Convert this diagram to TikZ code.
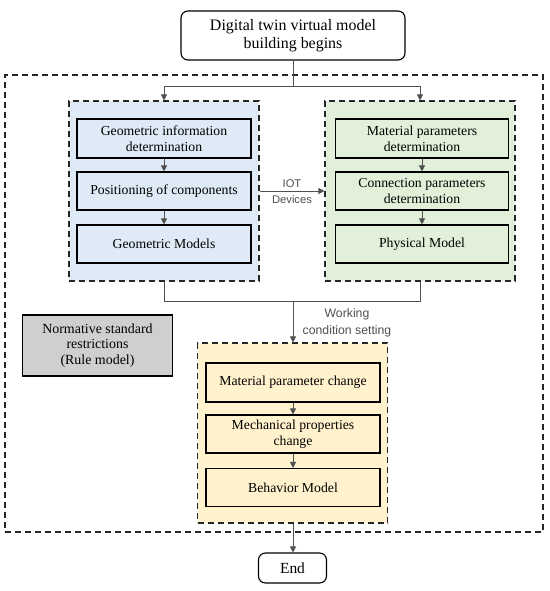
\documentclass[tikz,border=0pt]{standalone}
\usepackage{fontspec}
\setmainfont{Liberation Serif}
\newfontfamily\lblfont{Liberation Sans}
\usetikzlibrary{arrows.meta}
\definecolor{bluefill}{HTML}{DEEBF7}
\definecolor{greenfill}{HTML}{E2F0D9}
\definecolor{yellowfill}{HTML}{FFF2CC}
\definecolor{grayfill}{HTML}{D0CECE}
\definecolor{linegray}{HTML}{505050}
\begin{document}
\begin{tikzpicture}[x=1bp,y=-1bp,
  box/.style={draw=black,line width=1.1bp,inner sep=0pt,align=center,
    font=\fontsize{13.8}{15.7}\selectfont},
  roundbox/.style={box,rounded corners=7bp,fill=white},
  group/.style={draw=black!85,line width=1.1bp,dash pattern=on 6bp off 4bp,inner sep=0pt},
  conn/.style={draw=linegray,line width=0.8bp},
  arr/.style={conn,-{Triangle[length=6bp,width=6bp]}},
  lbl/.style={font=\lblfont\fontsize{11.2}{16}\selectfont,text=linegray,align=center}
]
\useasboundingbox (0,0) rectangle (550,591);

% outer dashed frame
\node[group,fill=white,minimum width=538bp,minimum height=457bp] (outer) at (274,303.5) {};

% top and end
\node[roundbox,minimum width=224bp,minimum height=49bp,font=\fontsize{16}{18.5}\selectfont] (top) at (293,35.5) {Digital twin virtual model\\building begins};
\node[roundbox,minimum width=68bp,minimum height=30bp,font=\fontsize{15.5}{18}\selectfont] (end) at (292.5,568) {End};

% groups
\node[group,fill=bluefill,minimum width=190bp,minimum height=180bp] (blue) at (164,191) {};
\node[group,fill=greenfill,minimum width=190bp,minimum height=180bp] (green) at (420,191) {};
\node[group,fill=yellowfill,minimum width=190bp,minimum height=180bp] (yellow) at (292.5,433) {};

% blue inner
\node[box,fill=bluefill,minimum width=174bp,minimum height=39bp] (b1) at (164,138.5) {Geometric information\\determination};
\node[box,fill=bluefill,minimum width=174bp,minimum height=38bp] (b2) at (164,191) {Positioning of components};
\node[box,fill=bluefill,minimum width=174bp,minimum height=38bp] (b3) at (164,244) {Geometric Models};

% green inner
\node[box,fill=greenfill,minimum width=173bp,minimum height=39bp] (g1) at (422,138.5) {Material parameters\\determination};
\node[box,fill=greenfill,minimum width=173bp,minimum height=38bp] (g2) at (422,191) {Connection parameters\\determination};
\node[box,fill=greenfill,minimum width=173bp,minimum height=38bp] (g3) at (422,244) {Physical Model};

% yellow inner
\node[box,fill=yellowfill,minimum width=174bp,minimum height=39bp] (y1) at (293,382.5) {Material parameter change};
\node[box,fill=yellowfill,minimum width=174bp,minimum height=38bp] (y2) at (293,434) {Mechanical properties\\change};
\node[box,fill=yellowfill,minimum width=174bp,minimum height=38bp] (y3) at (293,487.5) {Behavior Model};

% gray rule box
\node[box,fill=grayfill,minimum width=150bp,minimum height=61bp,font=\fontsize{14}{15.5}\selectfont] (rule) at (97.5,345.5) {Normative standard\\restrictions\\(Rule model)};

% connectors
\coordinate (j1) at (293,86);
\draw[conn] (top.south) -- (j1);
\draw[arr] (j1) -| (blue.north);
\draw[arr] (j1) -| (green.north);

\draw[arr] (b1) -- (b2);
\draw[arr] (b2) -- (b3);
\draw[arr] (g1) -- (g2);
\draw[arr] (g2) -- (g3);
\draw[arr] (y1) -- (y2);
\draw[arr] (y2) -- (y3);

\draw[arr] (blue.east) -- (green.west);
\node[lbl] (iot) at (292,192) {IOT\\Devices};

\coordinate (j2) at (293,301);
\draw[conn] (blue.south) |- (j2);
\draw[conn] (green.south) |- (j2);
\draw[arr] (j2) -- (j2 |- yellow.north);
\node[lbl,font=\lblfont\fontsize{12.3}{17}\selectfont] (wcs) at (347,322.5) {Working\\condition setting};

\draw[arr] (yellow.south -| j2) -- (end.north -| j2);
\end{tikzpicture}
\end{document}
